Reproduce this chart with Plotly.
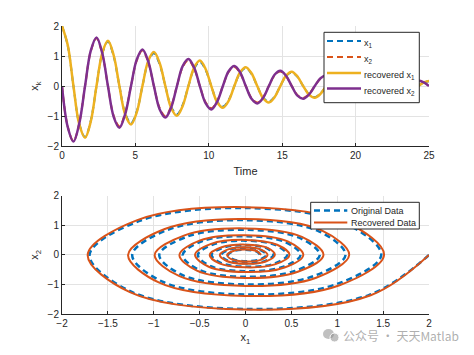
import plotly.graph_objects as go

# time samples (s)
t = [0.00, 0.39, 0.78, 1.17, 1.57, 1.96, 2.35, 2.74, 3.13, 3.52, 3.91, 4.30, 4.70, 5.09, 5.48, 5.87,
     6.26, 6.65, 7.04, 7.43, 7.83, 8.22, 8.61, 9.00, 9.39, 9.78, 10.17, 10.56, 10.96, 11.35, 11.74, 12.13,
     12.52, 12.91, 13.30, 13.69, 14.09, 14.48, 14.87, 15.26, 15.65, 16.04, 16.43, 16.82, 17.22, 17.61, 18.00, 18.39,
     18.78, 19.17, 19.56, 19.95, 20.35, 20.74, 21.13, 21.52, 21.91, 22.30, 22.69, 23.08, 23.48, 23.87, 24.26, 24.65,
     25.00]

# original states
x1_orig = [2.00, 1.35, 0.00, -1.245, -1.70, -1.155, 0.00, 1.08,
           1.48, 0.99, 0.00, -0.905, -1.235, -0.85, 0.00, 0.80,
           1.09, 0.73, 0.00, -0.685, -0.94, -0.63, 0.00, 0.585,
           0.81, 0.54, 0.00, -0.505, -0.685, -0.47, 0.00, 0.435,
           0.60, 0.405, 0.00, -0.38, -0.52, -0.355, 0.00, 0.33,
           0.455, 0.305, 0.00, -0.27, -0.37, -0.245, 0.00, 0.23,
           0.305, 0.21, 0.00, -0.195, -0.265, -0.18, 0.00, 0.165,
           0.23, 0.155, 0.00, -0.14, -0.19, -0.13, 0.00, 0.12,
           0.16]
x2_orig = [0.00, -1.35, -1.83, -1.245, 0.00, 1.155, 1.59, 1.08,
           0.00, -0.99, -1.34, -0.905, 0.00, 0.85, 1.18, 0.80,
           0.00, -0.73, -1.00, -0.685, 0.00, 0.63, 0.855, 0.585,
           0.00, -0.54, -0.74, -0.505, 0.00, 0.47, 0.635, 0.435,
           0.00, -0.405, -0.55, -0.38, 0.00, 0.355, 0.485, 0.33,
           0.00, -0.305, -0.40, -0.27, 0.00, 0.245, 0.335, 0.23,
           0.00, -0.21, -0.285, -0.195, 0.00, 0.18, 0.245, 0.165,
           0.00, -0.155, -0.21, -0.14, 0.00, 0.13, 0.175, 0.12,
           0.00]

# recovered states
x1_rec = [2.00, 1.365, 0.00, -1.26, -1.72, -1.18, 0.00, 1.10,
          1.51, 1.025, 0.00, -0.94, -1.28, -0.88, 0.00, 0.83,
          1.13, 0.77, 0.00, -0.72, -0.99, -0.665, 0.00, 0.615,
          0.85, 0.57, 0.00, -0.53, -0.72, -0.495, 0.00, 0.46,
          0.63, 0.425, 0.00, -0.40, -0.55, -0.375, 0.00, 0.345,
          0.48, 0.32, 0.00, -0.285, -0.39, -0.26, 0.00, 0.24,
          0.32, 0.22, 0.00, -0.205, -0.28, -0.19, 0.00, 0.175,
          0.24, 0.165, 0.00, -0.15, -0.20, -0.135, 0.00, 0.125,
          0.17]
x2_rec = [0.00, -1.365, -1.85, -1.26, 0.00, 1.18, 1.62, 1.10,
          0.00, -1.025, -1.39, -0.94, 0.00, 0.88, 1.22, 0.83,
          0.00, -0.77, -1.05, -0.72, 0.00, 0.665, 0.90, 0.615,
          0.00, -0.57, -0.78, -0.53, 0.00, 0.495, 0.67, 0.46,
          0.00, -0.425, -0.58, -0.40, 0.00, 0.375, 0.51, 0.345,
          0.00, -0.32, -0.42, -0.285, 0.00, 0.26, 0.35, 0.24,
          0.00, -0.22, -0.30, -0.205, 0.00, 0.19, 0.26, 0.175,
          0.00, -0.165, -0.22, -0.15, 0.00, 0.135, 0.185, 0.125,
          0.00]

top_xticks = [0, 5, 10, 15, 20, 25]
top_yticks = [-2, -1, 0, 1, 2]
bot_xticks = [-2, -1.5, -1, -0.5, 0, 0.5, 1, 1.5, 2]
bot_yticks = [-2, -1, 0, 1, 2]

top_names = ["x<sub>1</sub>", "x<sub>2</sub>", "recovered x<sub>1</sub>", "recovered x<sub>2</sub>"]
bot_names = ["Original Data", "Recovered Data"]

BLUE = "#0072BD"
RED = "#D95319"
YELLOW = "#EDB120"
PURPLE = "#7E2F8E"
FONT = "Liberation Sans, Arial, sans-serif"
AX = "#262626"
GRID = "#e3e3e3"
DASH = "6px,4px"
WM = "rgba(140,140,140,0.55)"

# page geometry: the page body adds an 8px offset
OFF = 8
W, H = 474 - OFF, 355 - OFF
L, R, T, B = 62 - OFF, 45, 26 - OFF, 41
PW, PH = W - L - R, H - T - B


def px(xp):  # page pixel -> paper x
    return (xp - OFF - L) / PW


def py(yp):  # page pixel -> paper y
    return (H - B - (yp - OFF)) / PH


fig = go.Figure()


def sp(color, width, dash=None):
    d = dict(color=color, width=width, shape="spline", smoothing=1.0)
    if dash:
        d["dash"] = dash
    return d


top_styles = [(BLUE, 2, DASH), (RED, 2, DASH), (YELLOW, 2.5, None), (PURPLE, 2.5, None)]
top_series = [x1_orig, x2_orig, x1_rec, x2_rec]
for name, ys, (c, w, d) in zip(top_names, top_series, top_styles):
    fig.add_trace(go.Scatter(x=t, y=ys, mode="lines", name=name, line=sp(c, w, d),
                             xaxis="x", yaxis="y", showlegend=False))

bot_styles = [(BLUE, 2.5, DASH), (RED, 2, None)]
bot_series = [(x1_orig, x2_orig), (x1_rec, x2_rec)]
for name, (xs, ys), (c, w, d) in zip(bot_names, bot_series, bot_styles):
    fig.add_trace(go.Scatter(x=xs, y=ys, mode="lines", name=name, line=sp(c, w, d),
                             xaxis="x2", yaxis="y2", showlegend=False))


def axis(**kw):
    base = dict(showline=True, linecolor=AX, linewidth=1, ticks="inside", ticklen=3,
                tickcolor=AX, showgrid=True, gridcolor=GRID, gridwidth=1, zeroline=False,
                mirror=False, automargin=True, tickfont=dict(family=FONT, size=10, color=AX),
                title_font=dict(family=FONT, size=11, color=AX))
    base.update(kw)
    return base


shapes = []
annotations = []


def legend_box(x0p, x1p, y0p, y1p, entries, line_x0, line_x1, text_x):
    shapes.append(dict(type="rect", xref="paper", yref="paper", x0=px(x0p), x1=px(x1p),
                       y0=py(y1p), y1=py(y0p), line=dict(color=AX, width=1),
                       fillcolor="white", layer="above"))
    for name, (c, w, d), yl, sub in entries:
        ln = dict(color=c, width=w)
        if d:
            ln["dash"] = DASH
        shapes.append(dict(type="line", xref="paper", yref="paper", x0=px(line_x0), x1=px(line_x1),
                           y0=py(yl), y1=py(yl), line=ln, layer="above"))
        annotations.append(dict(text=name, xref="paper", yref="paper", x=px(text_x),
                                y=py(yl + (2.5 if sub else 0)), xanchor="left", yanchor="middle",
                                showarrow=False, font=dict(family=FONT, size=9, color=AX)))


legend_box(324, 419.3, 32.3, 102.7,
           [(n, s, yl, True) for n, s, yl in zip(top_names, top_styles, [41, 57, 73, 88.5])],
           327, 361, 362)
legend_box(310.7, 419.3, 202.3, 229,
           [(n, s, yl, False) for n, s, yl in zip(bot_names, bot_styles, [210.5, 222.5])],
           314, 347.3, 349)

# watermark (chat-bubble icon + text)
shapes.append(dict(type="circle", xref="paper", yref="paper", x0=px(323), x1=px(334),
                   y0=py(339), y1=py(329), fillcolor=WM, line=dict(width=0), layer="above"))
shapes.append(dict(type="circle", xref="paper", yref="paper", x0=px(330), x1=px(339),
                   y0=py(342), y1=py(333), fillcolor=WM, line=dict(color="white", width=1), layer="above"))
annotations.append(dict(text="公众号 · 天天Matlab", xref="paper", yref="paper", x=px(341), y=py(335),
                        xanchor="left", yanchor="middle", showarrow=False,
                        font=dict(family="Noto Sans CJK SC", size=12, color="rgba(140,140,140,0.7)")))

fig.update_layout(
    width=W, height=H,
    margin=dict(l=L, r=R, t=T, b=B),
    paper_bgcolor="white", plot_bgcolor="white",
    xaxis=dict(axis(range=[0, 25], tickvals=top_xticks, title=dict(text="Time", standoff=7)),
               domain=[0, 1], anchor="y"),
    yaxis=dict(axis(range=[-2, 2], tickvals=top_yticks, title=dict(text="x<sub>k</sub>", standoff=6)),
               domain=[0.583, 1], anchor="x"),
    xaxis2=dict(axis(range=[-2, 2], tickvals=bot_xticks, title=dict(text="x<sub>1</sub>", standoff=5)),
                domain=[0, 1], anchor="y2"),
    yaxis2=dict(axis(range=[-2, 2], tickvals=bot_yticks, title=dict(text="x<sub>2</sub>", standoff=6)),
                domain=[0, 0.41], anchor="x2"),
    shapes=shapes,
    annotations=annotations,
)

fig.write_html("out.html")
